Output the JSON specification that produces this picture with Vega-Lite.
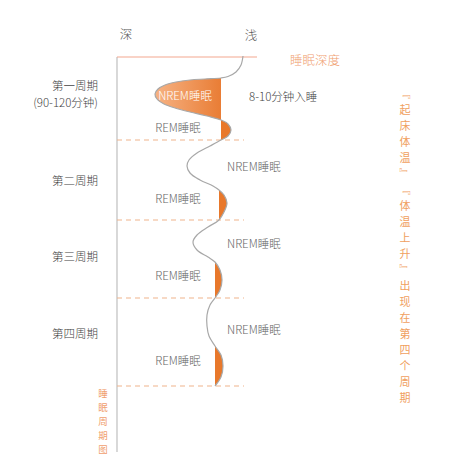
{
  "$schema": "https://vega.github.io/schema/vega-lite/v6.json",
  "width": 451,
  "height": 473,
  "padding": 0,
  "autosize": "none",
  "background": "white",
  "config": {"view": {"stroke": null}, "text": {"font": "Noto Sans CJK SC", "fontWeight": 300}},
  "datasets": {
    "curve": [
      {"i": 1, "x": 243, "y": 56}, {"i": 2, "x": 241, "y": 65}, {"i": 3, "x": 236, "y": 72}, {"i": 4, "x": 228, "y": 76.5},
      {"i": 5, "x": 221, "y": 78}, {"i": 6, "x": 205, "y": 79}, {"i": 7, "x": 190, "y": 80}, {"i": 8, "x": 176, "y": 82},
      {"i": 9, "x": 165, "y": 85}, {"i": 10, "x": 158, "y": 89}, {"i": 11, "x": 155, "y": 94}, {"i": 12, "x": 157, "y": 99},
      {"i": 13, "x": 164, "y": 104}, {"i": 14, "x": 175, "y": 108}, {"i": 15, "x": 190, "y": 112}, {"i": 16, "x": 207, "y": 116},
      {"i": 17, "x": 221, "y": 120}, {"i": 18, "x": 228, "y": 124}, {"i": 19, "x": 231, "y": 130}, {"i": 20, "x": 228, "y": 136},
      {"i": 21, "x": 221, "y": 140}, {"i": 22, "x": 210, "y": 146}, {"i": 23, "x": 197, "y": 153}, {"i": 24, "x": 189, "y": 160},
      {"i": 25, "x": 187, "y": 166}, {"i": 26, "x": 190, "y": 173}, {"i": 27, "x": 200, "y": 180}, {"i": 28, "x": 213, "y": 186},
      {"i": 29, "x": 219, "y": 190}, {"i": 30, "x": 224, "y": 195}, {"i": 31, "x": 227, "y": 203}, {"i": 32, "x": 224, "y": 212},
      {"i": 33, "x": 219, "y": 220}, {"i": 34, "x": 208, "y": 227}, {"i": 35, "x": 197, "y": 235}, {"i": 36, "x": 193, "y": 242},
      {"i": 37, "x": 197, "y": 250}, {"i": 38, "x": 208, "y": 257}, {"i": 39, "x": 215, "y": 262}, {"i": 40, "x": 220, "y": 270},
      {"i": 41, "x": 222, "y": 280}, {"i": 42, "x": 220, "y": 290}, {"i": 43, "x": 215, "y": 298}, {"i": 44, "x": 210, "y": 305},
      {"i": 45, "x": 207, "y": 315}, {"i": 46, "x": 207, "y": 326}, {"i": 47, "x": 209, "y": 336}, {"i": 48, "x": 215, "y": 346},
      {"i": 49, "x": 221, "y": 355}, {"i": 50, "x": 223, "y": 366}, {"i": 51, "x": 221, "y": 377}, {"i": 52, "x": 215, "y": 386}
    ],
    "nrem": [
      {"y": 78, "x": 221, "base": 221}, {"y": 79, "x": 205, "base": 221}, {"y": 80, "x": 190, "base": 221}, {"y": 82, "x": 176, "base": 221},
      {"y": 85, "x": 165, "base": 221}, {"y": 89, "x": 158, "base": 221}, {"y": 94, "x": 155, "base": 221}, {"y": 99, "x": 157, "base": 221},
      {"y": 104, "x": 164, "base": 221}, {"y": 108, "x": 175, "base": 221}, {"y": 112, "x": 190, "base": 221}, {"y": 116, "x": 207, "base": 221},
      {"y": 120, "x": 221, "base": 221}
    ],
    "rem": [
      {"blob": 1, "y": 120, "x": 221, "base": 221}, {"blob": 1, "y": 124, "x": 228, "base": 221}, {"blob": 1, "y": 130, "x": 231, "base": 221}, {"blob": 1, "y": 136, "x": 228, "base": 221}, {"blob": 1, "y": 140, "x": 221, "base": 221},
      {"blob": 2, "y": 190, "x": 219, "base": 219}, {"blob": 2, "y": 195, "x": 224, "base": 219}, {"blob": 2, "y": 203, "x": 227, "base": 219}, {"blob": 2, "y": 212, "x": 224, "base": 219}, {"blob": 2, "y": 220, "x": 219, "base": 219},
      {"blob": 3, "y": 262, "x": 215, "base": 215}, {"blob": 3, "y": 270, "x": 220, "base": 215}, {"blob": 3, "y": 280, "x": 222, "base": 215}, {"blob": 3, "y": 290, "x": 220, "base": 215}, {"blob": 3, "y": 298, "x": 215, "base": 215},
      {"blob": 4, "y": 346, "x": 215, "base": 215}, {"blob": 4, "y": 355, "x": 221, "base": 215}, {"blob": 4, "y": 366, "x": 223, "base": 215}, {"blob": 4, "y": 377, "x": 221, "base": 215}, {"blob": 4, "y": 386, "x": 215, "base": 215}
    ],
    "dashes": [{"y": 140, "x": 117, "x2": 244}, {"y": 220, "x": 117, "x2": 244}, {"y": 298, "x": 117, "x2": 244}, {"y": 386, "x": 117, "x2": 244}],
    "cycles": [
      {"label": "第一周期", "x": 98, "y": 87}, {"label": "(90-120分钟)", "x": 98, "y": 104},
      {"label": "第二周期", "x": 98, "y": 182}, {"label": "第三周期", "x": 98, "y": 258}, {"label": "第四周期", "x": 98, "y": 335}
    ],
    "remLabels": [{"label": "REM睡眠", "x": 178, "y": 129}, {"label": "REM睡眠", "x": 178, "y": 200}, {"label": "REM睡眠", "x": 178, "y": 277}, {"label": "REM睡眠", "x": 178, "y": 362}],
    "nremLabels": [{"label": "NREM睡眠", "x": 227, "y": 168}, {"label": "NREM睡眠", "x": 227, "y": 245}, {"label": "NREM睡眠", "x": 227, "y": 331}],
    "sideText": [
      {"ch": "﹃", "x": 405, "y": 95}, {"ch": "起", "x": 405, "y": 111}, {"ch": "床", "x": 405, "y": 127}, {"ch": "体", "x": 405, "y": 143},
      {"ch": "温", "x": 405, "y": 159}, {"ch": "﹄", "x": 405, "y": 175}, {"ch": "﹃", "x": 405, "y": 191}, {"ch": "体", "x": 405, "y": 207},
      {"ch": "温", "x": 405, "y": 223}, {"ch": "上", "x": 405, "y": 239}, {"ch": "升", "x": 405, "y": 255}, {"ch": "﹄", "x": 405, "y": 271},
      {"ch": "出", "x": 405, "y": 287}, {"ch": "现", "x": 405, "y": 303}, {"ch": "在", "x": 405, "y": 319}, {"ch": "第", "x": 405, "y": 335},
      {"ch": "四", "x": 405, "y": 351}, {"ch": "个", "x": 405, "y": 367}, {"ch": "周", "x": 405, "y": 383}, {"ch": "期", "x": 405, "y": 399}
    ],
    "axisTitle": [
      {"ch": "睡", "x": 103, "y": 394}, {"ch": "眠", "x": 103, "y": 408}, {"ch": "周", "x": 103, "y": 422},
      {"ch": "期", "x": 103, "y": 436}, {"ch": "图", "x": 103, "y": 450}
    ]
  },
  "encoding": {
    "x": {"field": "x", "type": "quantitative", "scale": {"domain": [0, 451], "nice": false, "zero": false}, "axis": null},
    "y": {"field": "y", "type": "quantitative", "scale": {"domain": [0, 473], "nice": false, "zero": false, "reverse": true}, "axis": null}
  },
  "layer": [
    {
      "data": {"values": [{"x": 117, "y": 57, "y2": 452}]},
      "mark": {"type": "rule", "color": "#c4c4c4", "strokeWidth": 1.3},
      "encoding": {"y2": {"field": "y2"}}
    },
    {
      "data": {"values": [{"x": 117, "x2": 257, "y": 57}]},
      "mark": {"type": "rule", "color": "#f3a890", "strokeWidth": 1.2},
      "encoding": {"x2": {"field": "x2"}}
    },
    {
      "data": {"name": "dashes"},
      "mark": {"type": "rule", "color": "#f0b48c", "strokeWidth": 1.2, "strokeDash": [5, 4]},
      "encoding": {"x2": {"field": "x2"}}
    },
    {
      "data": {"name": "nrem"},
      "mark": {"type": "area", "orient": "horizontal", "interpolate": "catmull-rom",
        "color": {"gradient": "linear", "x1": 0, "x2": 1, "y1": 0, "y2": 0,
          "stops": [{"offset": 0, "color": "#f6b283"}, {"offset": 1, "color": "#e97d35"}]}},
      "encoding": {"x2": {"field": "base"}}
    },
    {
      "data": {"name": "rem"},
      "mark": {"type": "area", "orient": "horizontal", "interpolate": "catmull-rom", "color": "#e8782b"},
      "encoding": {"x2": {"field": "base"}, "detail": {"field": "blob"}}
    },
    {
      "data": {"name": "curve"},
      "mark": {"type": "line", "interpolate": "catmull-rom", "color": "#a8a8a8", "strokeWidth": 1.2},
      "encoding": {"order": {"field": "i"}}
    },
    {
      "data": {"values": [{"label": "深", "x": 126, "y": 35}, {"label": "浅", "x": 251, "y": 36}]},
      "mark": {"type": "text", "fontSize": 12.5, "color": "#555555", "align": "center", "baseline": "middle"},
      "encoding": {"text": {"field": "label"}}
    },
    {
      "data": {"values": [{"label": "睡眠深度", "x": 290, "y": 61}]},
      "mark": {"type": "text", "fontSize": 12.5, "color": "#f0a070", "align": "left", "baseline": "middle"},
      "encoding": {"text": {"field": "label"}}
    },
    {
      "data": {"name": "cycles"},
      "mark": {"type": "text", "fontSize": 11.5, "color": "#444444", "align": "right", "baseline": "middle"},
      "encoding": {"text": {"field": "label"}}
    },
    {
      "data": {"name": "remLabels"},
      "mark": {"type": "text", "fontSize": 11.5, "color": "#666666", "align": "center", "baseline": "middle"},
      "encoding": {"text": {"field": "label"}}
    },
    {
      "data": {"name": "nremLabels"},
      "mark": {"type": "text", "fontSize": 11.5, "color": "#666666", "align": "left", "baseline": "middle"},
      "encoding": {"text": {"field": "label"}}
    },
    {
      "data": {"values": [{"label": "8-10分钟入睡", "x": 249, "y": 98}]},
      "mark": {"type": "text", "fontSize": 11.5, "color": "#444444", "align": "left", "baseline": "middle"},
      "encoding": {"text": {"field": "label"}}
    },
    {
      "data": {"values": [{"label": "NREM睡眠", "x": 185, "y": 97}]},
      "mark": {"type": "text", "fontSize": 11.5, "color": "#ffffff", "align": "center", "baseline": "middle"},
      "encoding": {"text": {"field": "label"}}
    },
    {
      "data": {"name": "sideText"},
      "mark": {"type": "text", "fontSize": 11, "fontWeight": 400, "color": "#f0a060", "align": "center", "baseline": "middle"},
      "encoding": {"text": {"field": "ch"}}
    },
    {
      "data": {"name": "axisTitle"},
      "mark": {"type": "text", "fontSize": 9.5, "fontWeight": 400, "color": "#f0a070", "align": "center", "baseline": "middle"},
      "encoding": {"text": {"field": "ch"}}
    }
  ]
}
